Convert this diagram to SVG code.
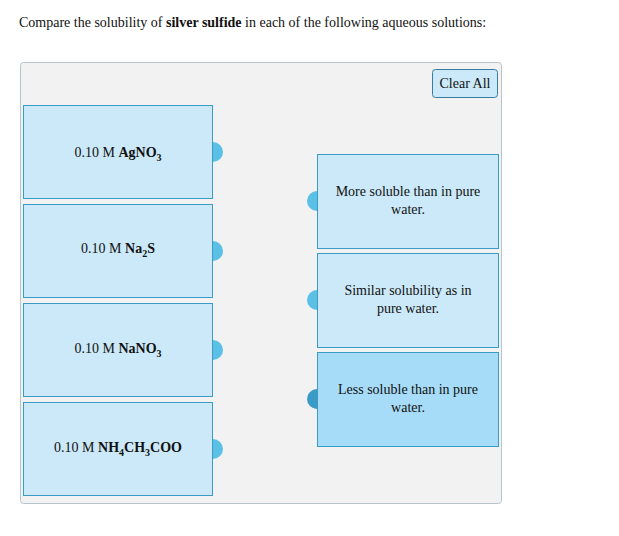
<svg xmlns="http://www.w3.org/2000/svg" width="619" height="536" viewBox="0 0 619 536">
<style>
text{font-family:"Liberation Serif",serif;font-size:14px;fill:#111}
.b{font-weight:bold}
.box{fill:#cbe9f8;stroke:#3a9cc6;stroke-width:1}
.h{fill:#5bc0e6}
</style>
<rect width="619" height="536" fill="#fff"/>
<text x="19" y="27">Compare the solubility of <tspan class="b">silver sulfide</tspan> in each of the following aqueous solutions:</text>
<rect x="20.5" y="62.5" width="481" height="441" rx="3" fill="#f2f2f2" stroke="#b8c4cc"/>
<g id="clear"><rect x="432.5" y="69.5" width="65" height="28" rx="3" fill="#cbe9f8" stroke="#3a7ca0"/><text x="465" y="88" text-anchor="middle">Clear All</text></g>
<g id="n1"><rect class="box" x="23.5" y="105.5" width="189" height="93"/><path class="h" d="M213 142a10 10 0 0 1 0 20z"/><text x="118" y="157" text-anchor="middle">0.10 M <tspan class="b">AgNO<tspan font-size="10" dy="4">3</tspan></tspan></text></g>
<g id="n2"><rect class="box" x="23.5" y="204.5" width="189" height="93"/><path class="h" d="M213 241a10 10 0 0 1 0 20z"/><text x="118" y="253" text-anchor="middle">0.10 M <tspan class="b">Na<tspan font-size="10" dy="4">2</tspan><tspan dy="-4">S</tspan></tspan></text></g>
<g id="n3"><rect class="box" x="23.5" y="303.5" width="189" height="93"/><path class="h" d="M213 340a10 10 0 0 1 0 20z"/><text x="118" y="353" text-anchor="middle">0.10 M <tspan class="b">NaNO<tspan font-size="10" dy="4">3</tspan></tspan></text></g>
<g id="n4"><rect class="box" x="23.5" y="402.5" width="189" height="93"/><path class="h" d="M213 439a10 10 0 0 1 0 20z"/><text x="118" y="452" text-anchor="middle">0.10 M <tspan class="b">NH<tspan font-size="10" dy="4">4</tspan><tspan dy="-4">CH</tspan><tspan font-size="10" dy="4">3</tspan><tspan dy="-4">COO</tspan></tspan></text></g>
<g id="r1"><path class="h" d="M317 191a10 10 0 0 0 0 20z"/><rect class="box" x="317.5" y="154.5" width="181" height="94"/><text x="408" y="196" text-anchor="middle">More soluble than in pure</text><text x="408" y="214" text-anchor="middle">water.</text></g>
<g id="r2"><path class="h" d="M317 290a10 10 0 0 0 0 20z"/><rect class="box" x="317.5" y="253.5" width="181" height="94"/><text x="408" y="295" text-anchor="middle">Similar solubility as in</text><text x="408" y="313" text-anchor="middle">pure water.</text></g>
<g id="r3"><path fill="#3a9cc6" d="M317 389a10 10 0 0 0 0 20z"/><rect x="317.5" y="352.5" width="181" height="94" fill="#a6dcf7" stroke="#3a9cc6"/><text x="408" y="394" text-anchor="middle">Less soluble than in pure</text><text x="408" y="412" text-anchor="middle">water.</text></g>
<g id="connectors"/>
</svg>
